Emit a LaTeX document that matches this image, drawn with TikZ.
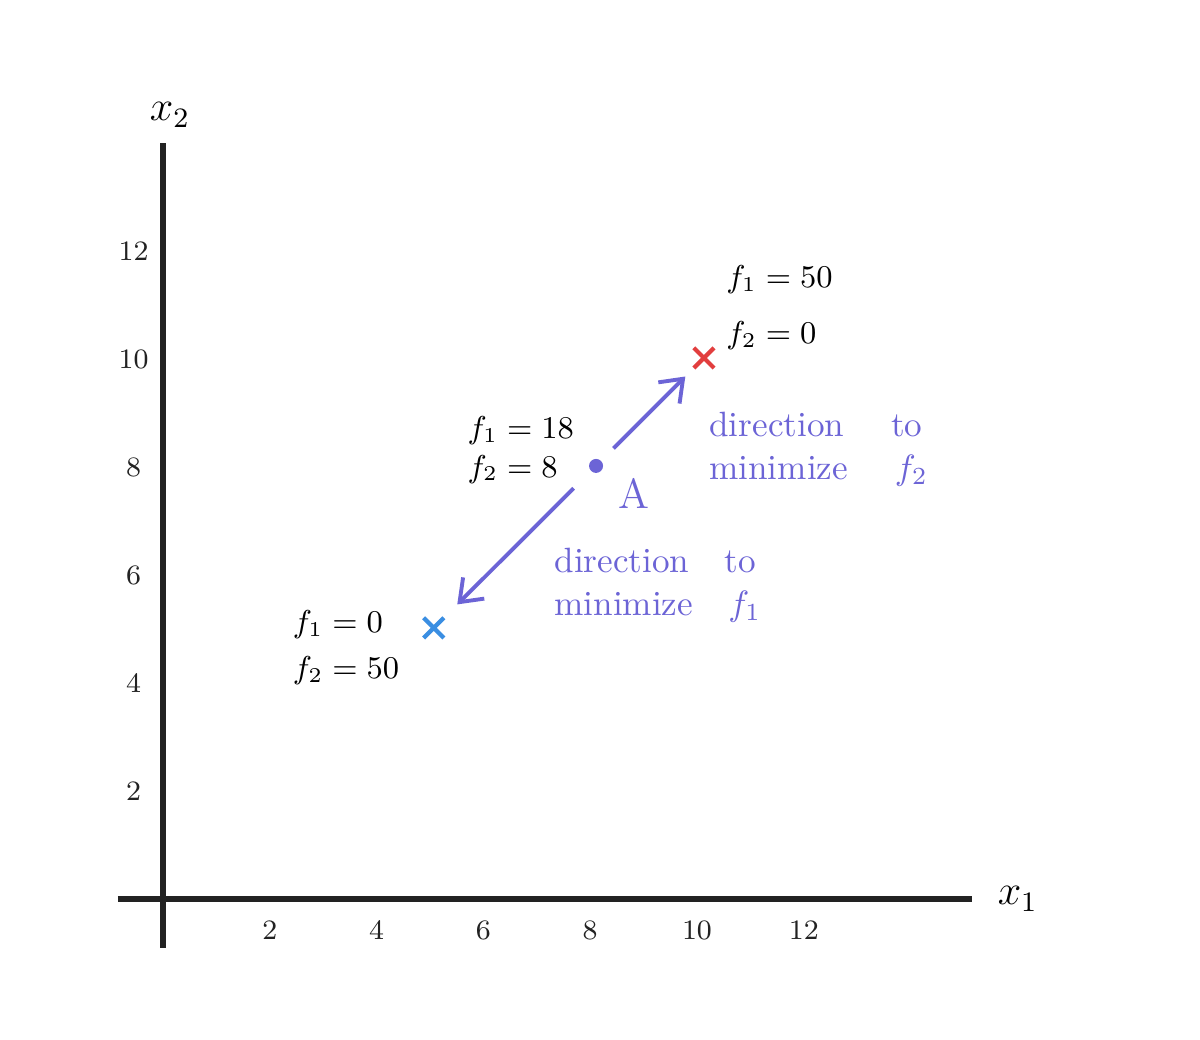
\documentclass[tikz,border=0pt]{standalone}
\usepackage{amsmath}
\usepackage{amssymb}
\usepackage{tikz}
\usetikzlibrary{positioning, arrows.meta, shapes.misc}

\definecolor{dirpurple}{RGB}{108,100,214}
\definecolor{optred}{RGB}{226,62,62}
\definecolor{optblue}{RGB}{58,142,226}
\definecolor{axisgray}{RGB}{34,34,34}

\tikzset{
  axisline/.style={line width=1.7pt, draw=axisgray},
  ticklab/.style={font=\footnotesize, text=axisgray},
  optcross/.style={cross out, draw=#1, line width=1.2pt, minimum size=.16cm, inner sep=0pt},
  dirarrow/.style={draw=dirpurple, line width=1.1pt, -{Straight Barb[length=2mm,width=3mm]}},
  dirtext/.style={text=dirpurple, align=left, font=\normalsize},
  vallab/.style={align=left, font=\small}
}

\begin{document}
\begin{tikzpicture}[x=0.534cm, y=0.54cm]
    \useasboundingbox[fill=white] (-3.052,-2.611) rectangle (19.42,16.648);

    % axes
    \draw[axisline] (-0.843,0) -- (15.15,0);
    \draw[axisline] (0,-0.907) -- (0,14.0);
    \node(xlab)[anchor=west, font=\large] at (15.4,0){$x_1$};
    \node(ylab)[font=\large] at (0.13,14.52){$x_2$};
    \foreach \v in {2,4,...,12} {
      \node[ticklab] at (\v,-0.574){\v};
      \node[ticklab] at (-0.55,\v){\v};
    }

    % points
    \node(A)[circle, fill=dirpurple, minimum size=.14cm, inner sep=0pt] at (8.11,8.02){};
    \node(Alab)[below right=-.05cm and .05cm of A, text=dirpurple, font=\large]{A};
    \node(red)[optcross=optred] at (10.13,10.02){};
    \node(blue)[optcross=optblue] at (5.07,5.02){};

    % objective values
    \node(valA)[vallab, left=.02cm of A, yshift=.16cm]{$f_1 = 18$\\$f_2 = 8$};
    \node(valred)[vallab, right=.0cm of red, yshift=.5cm]{$f_1 = 50$\\[5pt]$f_2 = 0$};
    \node(valblue)[vallab, left=.12cm of blue, yshift=-.2cm]{$f_1 = 0$\\[2pt]$f_2 = 50$};

    % directions
    \draw[dirarrow, shorten <=.17cm, shorten >=.12cm] (A) -- (red);
    \draw[dirarrow, shorten <=.24cm, shorten >=.19cm] (A) -- (blue);
    \node(dirf2)[dirtext, anchor=west] at (10.0,8.33){direction\quad\ to\\minimize\quad\ $f_2$};
    \node(dirf1)[dirtext, anchor=west] at (7.1,5.81){direction\quad to\\minimize\quad $f_1$};
  \end{tikzpicture}
\end{document}
